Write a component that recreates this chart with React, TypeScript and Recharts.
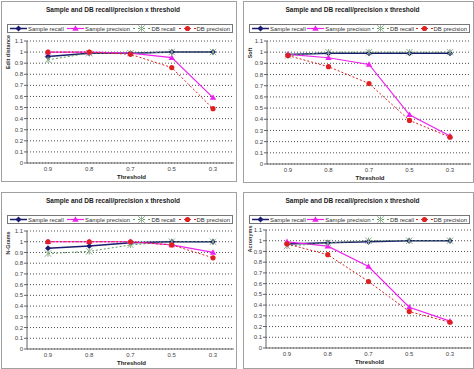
import React from 'react'
import { LineChart, Line, XAxis, YAxis, CartesianGrid } from 'recharts'

const thresholds = ['0.9', '0.8', '0.7', '0.5', '0.3']
const yTicks = [0, 0.1, 0.2, 0.3, 0.4, 0.5, 0.6, 0.7, 0.8, 0.9, 1, 1.1]

// Edit distance
const editSampleRecall = [0.96, 0.99, 0.99, 1.0, 1.0]
const editSamplePrecision = [1.0, 1.0, 0.99, 0.95, 0.59]
const editDbRecall = [0.93, 0.99, 0.99, 1.0, 1.0]
const editDbPrecision = [1.0, 1.0, 0.98, 0.86, 0.49]

// Soft
const softSampleRecall = [0.98, 0.99, 0.99, 0.99, 0.99]
const softSamplePrecision = [0.98, 0.95, 0.89, 0.44, 0.25]
const softDbRecall = [0.97, 1.0, 1.0, 1.0, 1.0]
const softDbPrecision = [0.97, 0.87, 0.72, 0.39, 0.24]

// N-Grams
const ngramSampleRecall = [0.94, 0.96, 0.99, 1.0, 1.0]
const ngramSamplePrecision = [1.0, 1.0, 1.0, 0.97, 0.9]
const ngramDbRecall = [0.89, 0.91, 0.97, 1.0, 1.0]
const ngramDbPrecision = [1.0, 1.0, 1.0, 0.97, 0.85]

// Acronyms
const acroSampleRecall = [0.97, 0.98, 0.99, 1.0, 1.0]
const acroSamplePrecision = [0.99, 0.95, 0.76, 0.38, 0.25]
const acroDbRecall = [0.95, 0.98, 1.0, 1.0, 1.0]
const acroDbPrecision = [0.97, 0.87, 0.62, 0.34, 0.24]

const seriesNames = ['Sample recall', 'Sample precision', 'DB recall', 'DB precision']

const NAVY = '#1a1a6e'
const MAGENTA = '#ee22ee'
const GREEN = '#5f9a5f'
const RED = '#e02020'
const FONT = '"Liberation Sans", Arial, sans-serif'

function buildRows(sr: number[], sp: number[], dr: number[], dp: number[]) {
  return thresholds.map((t, i) => ({
    threshold: t,
    sampleRecall: sr[i],
    samplePrecision: sp[i],
    dbRecall: dr[i],
    dbPrecision: dp[i],
  }))
}

function Diamond({ cx, cy }: any) {
  return <path d={`M${cx},${cy - 3}L${cx + 3},${cy}L${cx},${cy + 3}L${cx - 3},${cy}Z`} fill={NAVY} />
}
function Triangle({ cx, cy }: any) {
  return <path d={`M${cx},${cy - 3.2}L${cx + 3.2},${cy + 2.3}L${cx - 3.2},${cy + 2.3}Z`} fill={MAGENTA} />
}
function Star({ cx, cy }: any) {
  const s = 3.2
  return (
    <g stroke="#8fb08f" strokeWidth={1}>
      <line x1={cx - s} y1={cy - s} x2={cx + s} y2={cy + s} />
      <line x1={cx - s} y1={cy + s} x2={cx + s} y2={cy - s} />
      <line x1={cx} y1={cy - s} x2={cx} y2={cy + s} />
    </g>
  )
}
function Dot({ cx, cy }: any) {
  return <circle cx={cx} cy={cy} r={2.6} fill={RED} />
}

function LegendIcon({ kind }: { kind: number }) {
  const w = 17
  const cy = 3.5
  const cx = w / 2
  const h = 7
  if (kind === 0)
    return (
      <svg width={w} height={h}>
        <line x1={0} y1={cy} x2={w} y2={cy} stroke={NAVY} strokeWidth={1.5} />
        <Diamond cx={cx} cy={cy} />
      </svg>
    )
  if (kind === 1)
    return (
      <svg width={w} height={h}>
        <line x1={0} y1={cy} x2={w} y2={cy} stroke={MAGENTA} strokeWidth={1.2} />
        <Triangle cx={cx} cy={cy} />
      </svg>
    )
  if (kind === 2)
    return (
      <svg width={w} height={h}>
        <line x1={0} y1={cy} x2={w} y2={cy} stroke={GREEN} strokeWidth={1} strokeDasharray="2 3" />
        <Star cx={cx} cy={cy} />
      </svg>
    )
  return (
    <svg width={w} height={h}>
      <line x1={0} y1={cy} x2={w} y2={cy} stroke={RED} strokeWidth={1} strokeDasharray="2 3" />
      <Dot cx={cx} cy={cy} />
    </svg>
  )
}

interface PanelProps {
  data: any[]
  yLabel: string
  left: number
  top: number
  width: number
  height: number
  plotLeft: number
  plotTop: number
  plotBottom: number
  yLabelY: number
}

function Panel({ data, yLabel, left, top, width, height, plotLeft, plotTop, plotBottom, yLabelY }: PanelProps) {
  const yAxisWidth = 14
  const xAxisHeight = 12
  return (
    <div
      style={{
        position: 'absolute',
        left,
        top,
        width,
        height,
        border: '1px solid #a0a0a0',
        boxSizing: 'border-box',
        fontFamily: FONT,
        background: '#fff',
      }}
    >
      <div
        style={{
          position: 'absolute',
          left: 0,
          top: 4,
          width: width - 14,
          textAlign: 'center',
          fontSize: 6.5,
          fontWeight: 'bold',
          color: '#222',
          lineHeight: '8px',
        }}
      >
        Sample and DB recall/precision x threshold
      </div>
      <div
        style={{
          position: 'absolute',
          left: 5,
          top: 22,
          width: width - 10,
          height: 9,
          border: '1px solid #777',
          boxSizing: 'border-box',
          display: 'flex',
          alignItems: 'center',
          justifyContent: 'space-between',
          padding: '0 2px',
          fontSize: 5.9,
          color: '#333',
          whiteSpace: 'nowrap',
          overflow: 'hidden',
        }}
      >
        {seriesNames.map((n, i) => (
          <div key={n} style={{ display: 'flex', alignItems: 'center' }}>
            <LegendIcon kind={i} />
            <span style={{ marginLeft: 1 }}>{n}</span>
          </div>
        ))}
      </div>
      <div
        style={{
          position: 'absolute',
          left: 6,
          top: yLabelY,
          transform: 'translate(-50%, -50%) rotate(-90deg)',
          fontSize: 5.5,
          fontWeight: 'bold',
          color: '#333',
          whiteSpace: 'nowrap',
        }}
      >
        {yLabel}
      </div>
      <div
        style={{
          position: 'absolute',
          left: plotLeft,
          width: width - 3 - plotLeft,
          top: plotBottom + 10,
          textAlign: 'center',
          fontSize: 6,
          fontWeight: 'bold',
          color: '#222',
        }}
      >
        Threshold
      </div>
      <div style={{ position: 'absolute', left: -1, top: -1 }}>
        <LineChart
          width={width}
          height={height}
          data={data}
          margin={{
            top: plotTop,
            right: 3,
            left: plotLeft - yAxisWidth,
            bottom: height - plotBottom - xAxisHeight,
          }}
          style={{ fontFamily: FONT }}
        >
          <CartesianGrid vertical={false} stroke="#222" strokeDasharray="1 2" strokeWidth={0.8} />
          <XAxis
            dataKey="threshold"
            height={xAxisHeight}
            tick={{ fontSize: 6, fill: '#444' }}
            tickLine={false}
            tickSize={3}
            tickMargin={1}
            axisLine={{ stroke: '#666' }}
            padding={{ left: 21, right: 21 }}
            interval={0}
          />
          <YAxis
            width={yAxisWidth}
            domain={[0, 1.1]}
            ticks={yTicks}
            interval={0}
            tick={{ fontSize: 6, fill: '#444' }}
            tickSize={3}
            tickMargin={1}
            tickLine={{ stroke: '#666' }}
            axisLine={{ stroke: '#666' }}
            tickFormatter={(v: number) => String(v)}
          />
          <Line
            dataKey="sampleRecall"
            stroke={NAVY}
            strokeWidth={1.5}
            dot={(p: any) => <Diamond key={p.index} cx={p.cx} cy={p.cy} />}
            isAnimationActive={false}
          />
          <Line
            dataKey="samplePrecision"
            stroke={MAGENTA}
            strokeWidth={1.2}
            dot={(p: any) => <Triangle key={p.index} cx={p.cx} cy={p.cy} />}
            isAnimationActive={false}
          />
          <Line
            dataKey="dbRecall"
            stroke={GREEN}
            strokeWidth={1}
            strokeDasharray="2 2"
            dot={(p: any) => <Star key={p.index} cx={p.cx} cy={p.cy} />}
            isAnimationActive={false}
          />
          <Line
            dataKey="dbPrecision"
            stroke={RED}
            strokeWidth={1}
            strokeDasharray="2 2"
            dot={(p: any) => <Dot key={p.index} cx={p.cx} cy={p.cy} />}
            isAnimationActive={false}
          />
        </LineChart>
      </div>
    </div>
  )
}

export default function App() {
  return (
    <div style={{ position: 'absolute', left: 0, top: 0, width: 474, height: 369, background: '#fff' }}>
      <Panel
        data={buildRows(editSampleRecall, editSamplePrecision, editDbRecall, editDbPrecision)}
        yLabel="Edit distance"
        left={1}
        top={1}
        width={236}
        height={181}
        plotLeft={26}
        plotTop={40}
        plotBottom={162}
        yLabelY={50}
      />
      <Panel
        data={buildRows(softSampleRecall, softSamplePrecision, softDbRecall, softDbPrecision)}
        yLabel="Soft"
        left={243}
        top={1}
        width={231}
        height={182}
        plotLeft={24}
        plotTop={40}
        plotBottom={163}
        yLabelY={51}
      />
      <Panel
        data={buildRows(ngramSampleRecall, ngramSamplePrecision, ngramDbRecall, ngramDbPrecision)}
        yLabel="N-Grams"
        left={1}
        top={192}
        width={236}
        height={177}
        plotLeft={26}
        plotTop={39}
        plotBottom={157}
        yLabelY={50}
      />
      <Panel
        data={buildRows(acroSampleRecall, acroSamplePrecision, acroDbRecall, acroDbPrecision)}
        yLabel="Acronyms"
        left={243}
        top={192}
        width={231}
        height={177}
        plotLeft={23}
        plotTop={38}
        plotBottom={156}
        yLabelY={46}
      />
    </div>
  )
}
